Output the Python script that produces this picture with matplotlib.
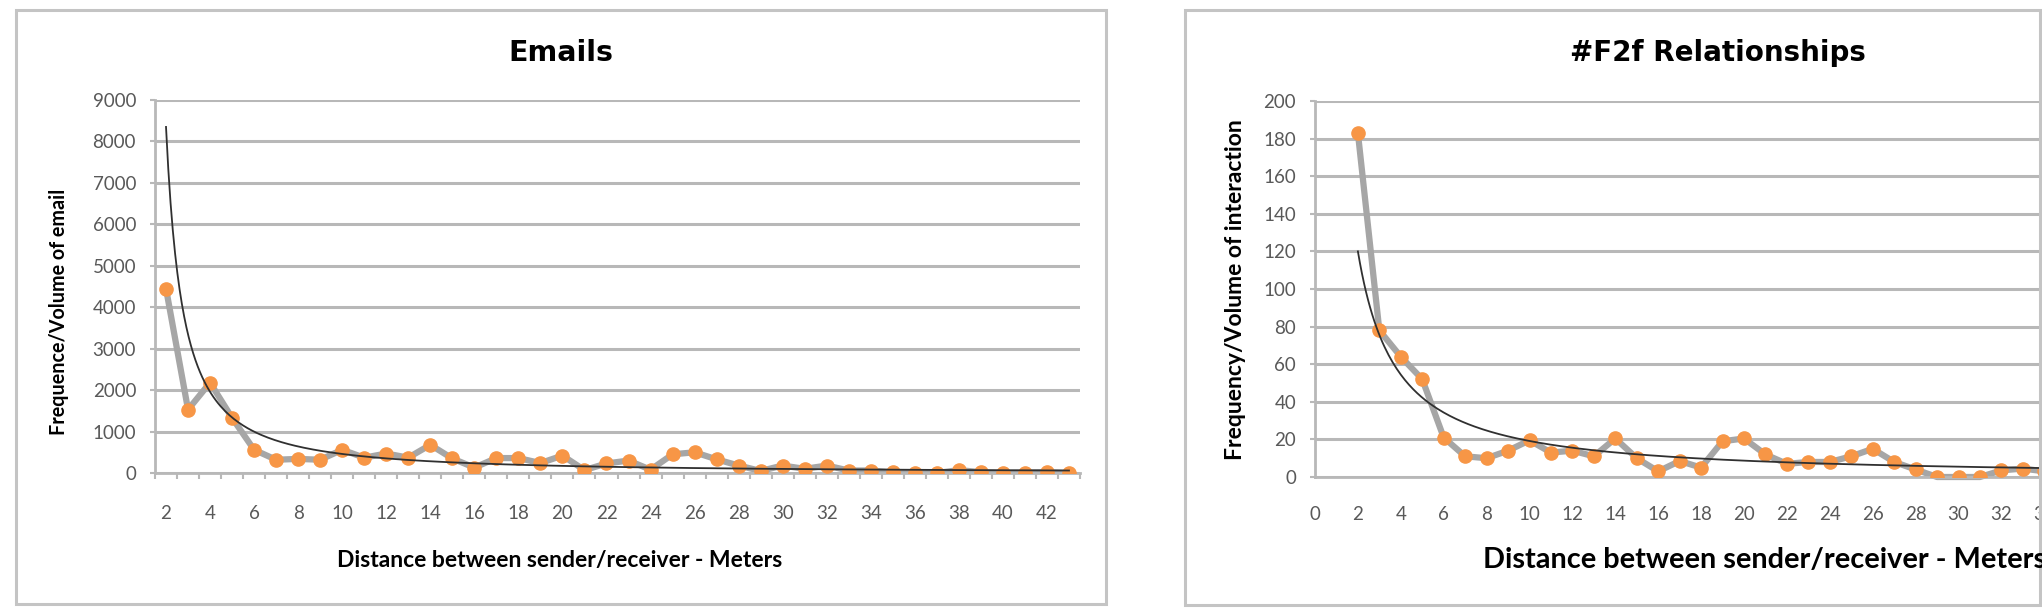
import numpy as np
import matplotlib
matplotlib.use('Agg')
import matplotlib.pyplot as plt
from matplotlib.patches import Rectangle

plt.rcParams['font.family'] = ['Lato', 'DejaVu Sans']

# ---- data ----
# Emails (line chart, one category per metre)
email_dist = list(range(2, 44))
email_freq = [4450, 1530, 2180, 1330, 560, 320, 340, 320, 560, 370,
              470, 370, 680, 350, 130, 360, 360, 240, 420, 70,
              230, 300, 80, 450, 500, 330, 180, 50, 180, 100,
              180, 60, 60, 20, 0, 0, 70, 20, 0, 10, 20, 0]
email_yticks = list(range(0, 9001, 1000))
email_xticks = list(range(2, 43, 2))
# power trendline (Excel fits on category index 1..n): y = a * i**b
email_trend_a, email_trend_b = 8350, -1.32

# F2f relationships (scatter chart, cropped on the right)
f2f_dist = list(range(2, 35))
f2f_freq = [183, 78, 64, 52, 21, 11, 10, 14, 19.5, 13,
            14, 11, 20.5, 10, 3, 8.5, 5, 19, 20.5, 12,
            7, 8, 8, 11, 15, 8, 4, 0, 0, 0,
            3.5, 4.5, 3]
f2f_yticks = list(range(0, 201, 20))
f2f_xticks = list(range(0, 41, 2))
# power trendline: y = a * (x/2)**b
f2f_trend_a, f2f_trend_b = 120, -1.14

# ---- style ----
W, H = 2042, 611
ORANGE = '#f79646'
LINE_GREY = '#a6a6a6'
GRID = '#b8b8b8'
TICK_TXT = '#595959'
BORDER = '#c4c4c4'
TITLE_FONT = ['DejaVu Sans']


def px(x, y):
    """pixel (from top-left) -> figure fraction"""
    return x / W, 1 - y / H


def box(left, top, right, bottom):
    return [left / W, 1 - bottom / H, (right - left) / W, (bottom - top) / H]


def style_axes(ax):
    for s in ['top', 'right']:
        ax.spines[s].set_visible(False)
    for s in ['left', 'bottom']:
        ax.spines[s].set_color(GRID)
        ax.spines[s].set_linewidth(2)
    ax.yaxis.grid(True, color=GRID, linewidth=2.2)
    ax.set_axisbelow(True)
    ax.tick_params(axis='y', length=3.6, width=1.5, color=GRID, pad=10,
                   labelsize=13.5, labelcolor=TICK_TXT)


fig = plt.figure(figsize=(W / 100, H / 100), dpi=100)

# chart area borders
for l, t, r, b in [(16, 10, 1106, 604), (1185, 10, 2040, 605)]:
    fig.patches.append(Rectangle(px(l, b), (r - l) / W, (b - t) / H,
                                 transform=fig.transFigure, fill=False,
                                 edgecolor=BORDER, linewidth=2.2))

# ---- Emails ----
ax1 = fig.add_axes(box(155, 100, 1080, 473))
style_axes(ax1)
ax1.plot(email_dist, email_freq, color=LINE_GREY, linewidth=4.5, zorder=2)
ax1.plot(email_dist, email_freq, 'o', color=ORANGE, markersize=9.5, zorder=3)
xt = np.linspace(email_dist[0], email_dist[-1], 400)
ax1.plot(xt, email_trend_a * (xt - 1) ** email_trend_b, color='#303030',
         linewidth=1.3, zorder=4)
ax1.set_xlim(1.5, 43.5)
ax1.set_ylim(0, 9000)
ax1.set_yticks(email_yticks)
ax1.set_xticks(email_xticks)
ax1.set_xticks(np.arange(1.5, 44, 1), minor=True)
ax1.tick_params(axis='x', which='major', length=0, pad=23,
                labelsize=13.5, labelcolor=TICK_TXT)
ax1.tick_params(axis='x', which='minor', length=4.3, width=1.5, color=GRID)

fig.text(*px(561, 53), 'Emails', ha='center', va='center',
         fontsize=20.5, fontweight='bold', family=TITLE_FONT)
fig.text(*px(560, 560), 'Distance between sender/receiver - Meters',
         ha='center', va='center', fontsize=16.5, fontweight='bold')
fig.text(*px(59, 312), 'Frequence/Volume of email', ha='center',
         va='center', rotation=90, fontsize=14.2, fontweight='bold')

# ---- F2f relationships ----
ax2 = fig.add_axes(box(1315, 101, 1317 + 40 * 21.4, 477))
style_axes(ax2)
ax2.plot(f2f_dist, f2f_freq, color=LINE_GREY, linewidth=4.5, zorder=2,
         clip_on=False)
ax2.plot(f2f_dist, f2f_freq, 'o', color=ORANGE, markersize=9.5, zorder=3)
xt = np.linspace(f2f_dist[0], 40, 400)
ax2.plot(xt, f2f_trend_a * (xt / 2) ** f2f_trend_b, color='#303030',
         linewidth=1.3, zorder=4)
ax2.set_xlim(0, 40)
ax2.set_ylim(0, 200)
ax2.set_yticks(f2f_yticks)
ax2.set_xticks(f2f_xticks)
ax2.tick_params(axis='x', length=0, pad=21, labelsize=13.5,
                labelcolor=TICK_TXT)

fig.text(*px(1718, 53), '#F2f Relationships', ha='center', va='center',
         fontsize=20, fontweight='bold', family=TITLE_FONT)
# the source picture is cropped here, so this label runs off the edge
fig.text(*px(1483, 560), 'Distance between sender/receiver - Meters',
         ha='left', va='center', fontsize=20.8, fontweight='bold')
fig.text(*px(1235, 290), 'Frequency/Volume of interaction', ha='center',
         va='center', rotation=90, fontsize=16.5, fontweight='bold')

fig.savefig('out.png', dpi=100)
